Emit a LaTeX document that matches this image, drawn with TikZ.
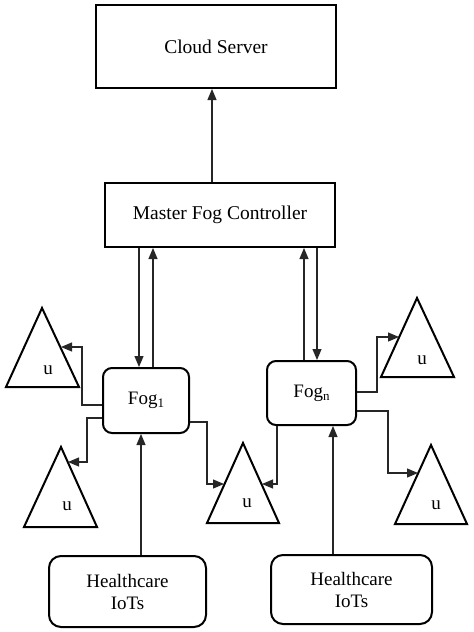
\documentclass[tikz,border=0pt]{standalone}
\usepackage{fontspec}
\setmainfont{Liberation Serif}
\usetikzlibrary{arrows.meta,calc}
\tikzset{
  boxsq/.style={draw, line width=2pt, rectangle, font=\fontsize{19.5}{23}\selectfont},
  boxrd/.style={draw, line width=2pt, rectangle, rounded corners=9pt, font=\fontsize{19}{22}\selectfont, align=center},
  tri/.style={draw, line width=2pt, line join=miter},
  arr/.style={line width=1.2pt, draw=black!85, -{Triangle[length=11pt,width=9pt]}},
  ulab/.style={font=\fontsize{19}{22}\selectfont, inner sep=0pt}
}
\newcommand{\sbs}[1]{\raisebox{-0.35ex}{\fontsize{13}{15}\selectfont #1}}
\begin{document}
\begin{tikzpicture}[x=1pt,y=-1pt]
\useasboundingbox (0,0) rectangle (474,632);
% boxes
\node[boxsq, minimum width=240pt, minimum height=83pt] (cloud) at (216,46.5) {Cloud Server};
\node[boxsq, minimum width=230pt, minimum height=64pt] (mfc) at (220,215) {Master Fog Controller};
\node[boxrd, minimum width=86pt, minimum height=65pt] (fog1) at (146,400.5) {Fog\sbs{1}};
\node[boxrd, minimum width=89pt, minimum height=64pt] (fogn) at (311.5,393) {Fog\sbs{n}};
\node[boxrd, rounded corners=12pt, minimum width=157pt, minimum height=71pt] (hiot1) at (127.5,591.5) {Healthcare\\IoTs};
\node[boxrd, rounded corners=12pt, minimum width=161pt, minimum height=69pt] (hiot2) at (351.5,589.5) {Healthcare\\IoTs};
% triangles
\draw[tri] (42,308) coordinate (a1) -- (79,387) -- (6,387) -- cycle;
\draw[tri] (61,447) coordinate (a2) -- (97,527) -- (24,527) -- cycle;
\draw[tri] (243,443) coordinate (a3) -- (279,523) -- (207,523) -- cycle;
\draw[tri] (417,298) coordinate (a4) -- (454,377) -- (381,377) -- cycle;
\draw[tri] (431,445) coordinate (a5) -- (467,524) -- (395,524) -- cycle;
\node[ulab] (u1) at (48,370) {u};
\node[ulab] (u2) at (67,506) {u};
\node[ulab] (u3) at (247,503) {u};
\node[ulab] (u4) at (422,360) {u};
\node[ulab] (u5) at (436,505) {u};
% arrow end points
\coordinate (x212) at (212,0);
\coordinate (x139) at (139,0);
\coordinate (x153) at (153,0);
\coordinate (x304) at (304,0);
\coordinate (x317) at (317,0);
\coordinate (x141) at (141,0);
\coordinate (x333) at (333,0);
\coordinate (t1in) at (61,347);
\coordinate (t2in) at (68,462);
\coordinate (t3l) at (224,484);
\coordinate (t3r) at (262,484);
\coordinate (t4in) at (399,337);
\coordinate (t5in) at (418,473);
% connectors
\draw[arr] (mfc.north -| x212) -- (cloud.south -| x212);
\draw[arr] (mfc.south -| x139) -- (fog1.north -| x139);
\draw[arr] (fog1.north -| x153) -- (mfc.south -| x153);
\draw[arr] (fogn.north -| x304) -- (mfc.south -| x304);
\draw[arr] (mfc.south -| x317) -- (fogn.north -| x317);
\draw[arr] (hiot1.north -| x141) -- (fog1.south -| x141);
\draw[arr] (hiot2.north -| x333) -- (fogn.south -| x333);
\draw[arr] ([yshift=-4.5pt]fog1.west) -- ++(-20,0) |- (t1in);
\draw[arr] ([yshift=-17.5pt]fog1.west) -- ++(-15,0) |- (t2in);
\draw[arr] ([yshift=-21.5pt]fog1.east) -- ++(17,0) |- (t3l);
\draw[arr] ([xshift=-34.5pt]fogn.south) |- (t3r);
\draw[arr] ([yshift=1pt]fogn.east) -- ++(20,0) |- (t4in);
\draw[arr] ([yshift=-18pt]fogn.east) -- ++(31,0) |- (t5in);
\end{tikzpicture}
\end{document}
